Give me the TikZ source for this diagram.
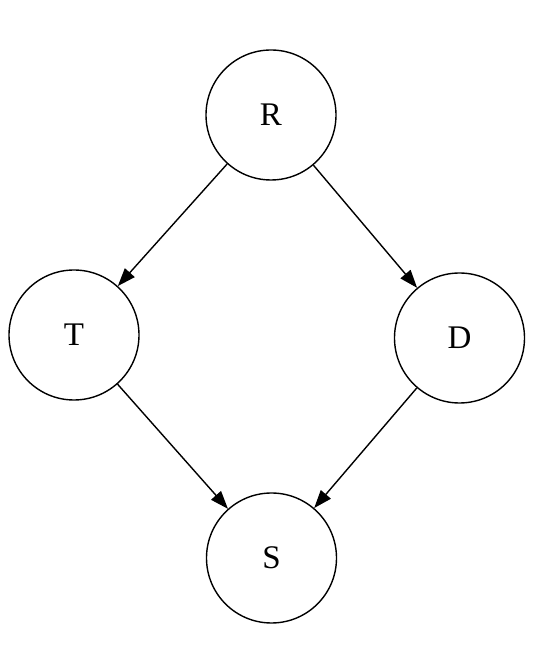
\documentclass[tikz,border=0pt]{standalone}
\usepackage{fontspec}
\setmainfont{Liberation Serif}
\usetikzlibrary{arrows.meta}
\begin{document}
\begin{tikzpicture}[x=1pt,y=1pt,
  vnode/.style={circle,draw,line width=1.4pt,minimum size=130pt,inner sep=0pt,font=\fontsize{33}{33}\selectfont},
  edge/.style={line width=1.4pt,-{Triangle[length=18pt,width=13pt]}}]
\useasboundingbox (0,0) rectangle (551,661);
\node[vnode] (R) at (271,546) {R};
\node[vnode] (T) at (74,326) {T};
\node[vnode] (D) at (459.5,323) {D};
\node[vnode] (S) at (271.5,103) {S};
\draw[edge] (R) -- (T);
\draw[edge] (R) -- (D);
\draw[edge] (T) -- (S);
\draw[edge] (D) -- (S);
\end{tikzpicture}
\end{document}
